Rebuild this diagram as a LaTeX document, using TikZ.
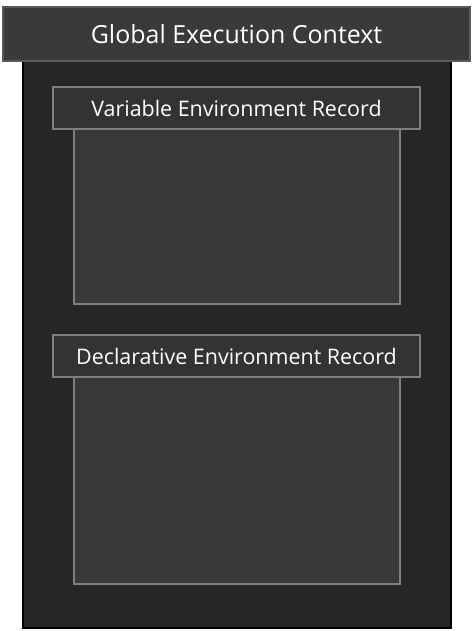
\documentclass[tikz,border=0pt]{standalone}
\usepackage{fontspec}
\setmainfont{Open Sans}
\usepackage{tikz}
\usetikzlibrary{positioning}
\definecolor{ctxfill}{RGB}{38,38,38}
\definecolor{barfill}{RGB}{58,58,58}
\definecolor{barline}{RGB}{89,89,89}
\definecolor{recfill}{RGB}{51,51,51}
\definecolor{bodyfill}{RGB}{57,57,57}
\definecolor{recline}{RGB}{127,127,127}

\begin{document}
\begin{tikzpicture}[x=0.02cm,y=-0.02cm,
    frame/.style={rectangle,draw=black,line width=1.2pt,fill=ctxfill,minimum width=8.56cm,minimum height=11.36cm},
    titlebar/.style={rectangle,draw=barline,line width=1pt,fill=barfill,text=white,font=\fontsize{14.2}{16}\selectfont,minimum width=9.34cm,minimum height=1.08cm},
    rechead/.style={rectangle,draw=recline,line width=1.2pt,fill=recfill,text=white,font=\fontsize{12.2}{14}\selectfont,minimum width=7.34cm,minimum height=0.84cm},
    recbody/.style={rectangle,draw=recline,line width=1.2pt,fill=bodyfill,minimum width=6.52cm}]

    \useasboundingbox[fill=white] (0,0) rectangle (474,631);

    % Global context
    \node[frame] (ctx) at (237,344) {};
    \node[titlebar] (gec) at (236.5,34) {Global Execution Context};

    % Variable record
    \node[recbody,minimum height=3.5cm] (varbody) at (237,216.5) {};
    \node[rechead] (varhead) at (236.5,108) {Variable Environment Record};

    % Declarative record
    \node[recbody,minimum height=4.14cm] (declbody) at (237,480.5) {};
    \node[rechead] (declhead) at (236.5,356) {Declarative Environment Record};
\end{tikzpicture}
\end{document}
